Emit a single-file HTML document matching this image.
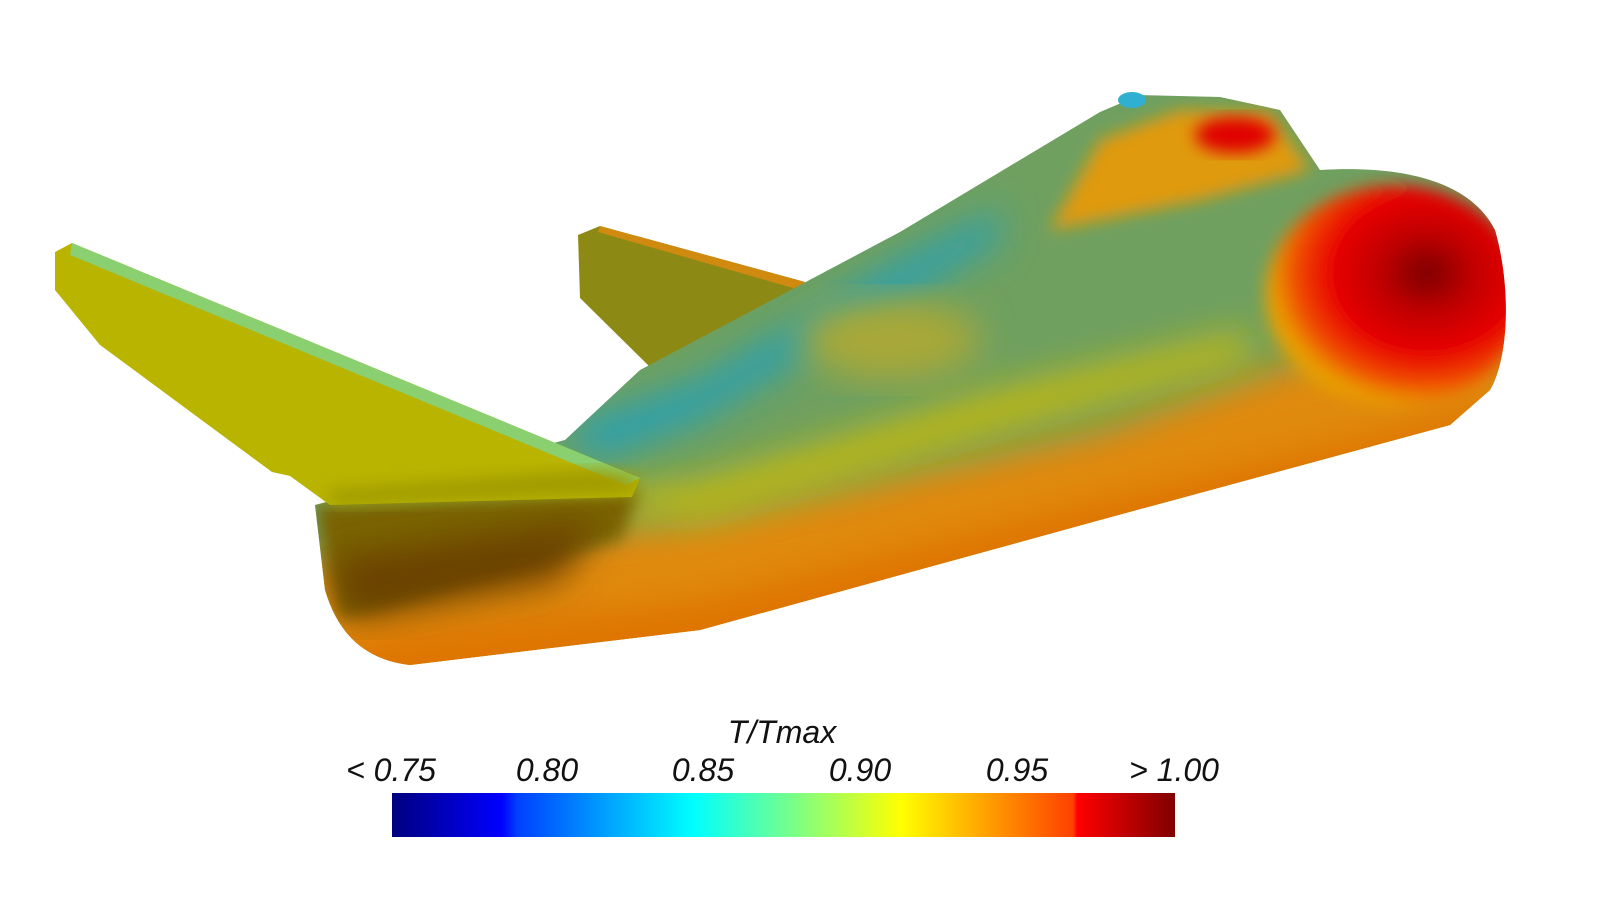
<!DOCTYPE html>
<html><head><style>
html,body{margin:0;padding:0;background:#fff;width:1600px;height:900px;overflow:hidden}
.t{font-family:"Liberation Sans",sans-serif;font-style:italic;font-size:32px;fill:#111}
</style></head><body>
<svg width="1600" height="900" viewBox="0 0 1600 900" xmlns="http://www.w3.org/2000/svg">
<defs>
<linearGradient id="jet" x1="0" x2="1">
<stop offset="0" stop-color="#00007f"/><stop offset="0.14" stop-color="#0000ff"/>
<stop offset="0.16" stop-color="#0040ff"/><stop offset="0.385" stop-color="#00ffff"/>
<stop offset="0.52" stop-color="#80ff80"/><stop offset="0.65" stop-color="#ffff00"/>
<stop offset="0.87" stop-color="#ff4000"/><stop offset="0.875" stop-color="#ff0000"/>
<stop offset="1" stop-color="#7f0000"/></linearGradient>
<filter id="b" x="-20%" y="-20%" width="140%" height="140%"><feGaussianBlur stdDeviation="18"/></filter>
<filter id="b2" x="-20%" y="-20%" width="140%" height="140%"><feGaussianBlur stdDeviation="8"/></filter>
<radialGradient id="nose" cx="0.62" cy="0.4" r="0.6">
<stop offset="0" stop-color="#7a0000"/><stop offset="0.3" stop-color="#c00000"/><stop offset="0.6" stop-color="#e80000"/><stop offset="0.85" stop-color="#f05000"/><stop offset="1" stop-color="#e8a000"/></radialGradient>
<clipPath id="bc"><path d="M315,505 L565,440 L640,370 L900,232 L1100,112 L1140,95 L1220,97 L1280,110 L1320,170 C1400,165 1470,180 1495,230 C1512,290 1508,360 1490,390 L1450,425 L1100,520 L700,630 L410,665 C370,660 340,640 325,590 Z"/></clipPath>
</defs>
<path d="M578,235 L600,226 L805,282 L655,372 L580,298 Z" fill="#8c8a14"/>
<path d="M600,226 L805,282 L800,290 L598,232 Z" fill="#d08a10"/>
<g clip-path="url(#bc)">
<rect x="300" y="80" width="1220" height="600" fill="#6fa060"/>
<path d="M300,560 L700,520 L1100,430 L1300,360 L1520,300 L1520,700 L300,700 Z" fill="#e08a10" filter="url(#b)"/>
<path d="M350,640 L700,600 L1100,500 L1520,400 L1520,700 L300,700 Z" fill="#de7400" filter="url(#b)"/>
<path d="M520,500 L700,480 L1000,390 L1250,330 L1250,360 L1000,430 L700,520 Z" fill="#c0b818" filter="url(#b)"/>
<path d="M560,430 L700,380 L900,260 L1000,210 L1000,240 L900,300 L700,420 L600,460 Z" fill="#2aa0b0" filter="url(#b)"/>
<ellipse cx="890" cy="340" rx="90" ry="40" fill="#a8a838" filter="url(#b)"/>
<path d="M315,505 L640,490 L620,540 L340,620 Z" fill="#7a6400" filter="url(#b2)"/>
<path d="M330,560 L600,520 L560,580 L350,620 Z" fill="#6a4000" filter="url(#b)"/>
<ellipse cx="1395" cy="295" rx="130" ry="110" fill="url(#nose)" filter="url(#b2)"/>
<path d="M1050,230 L1100,140 L1180,110 L1270,112 L1310,170 L1200,200 Z" fill="#e09a10" filter="url(#b2)"/>
<ellipse cx="1235" cy="135" rx="40" ry="18" fill="#e00000" filter="url(#b2)"/>
</g>
<ellipse cx="1132" cy="100" rx="14" ry="8" fill="#30b0d0"/>
<path d="M55,252 L72,243 L640,478 L632,497 L330,505 L290,476 L272,472 L100,345 L55,290 Z" fill="#b8b400"/>
<path d="M72,243 L640,478 L625,485 L70,255 Z" fill="#8ad070"/>
<path d="M330,505 L632,492 L640,478 L600,470 L330,490 Z" fill="#a09a00" filter="url(#b2)"/>
<rect x="392" y="793" width="783" height="44" fill="url(#jet)"/>
<text class="t" x="782" y="743" text-anchor="middle">T/Tmax</text>
<text class="t" x="391" y="781" text-anchor="middle">&lt; 0.75</text>
<text class="t" x="547" y="781" text-anchor="middle">0.80</text>
<text class="t" x="703" y="781" text-anchor="middle">0.85</text>
<text class="t" x="860" y="781" text-anchor="middle">0.90</text>
<text class="t" x="1017" y="781" text-anchor="middle">0.95</text>
<text class="t" x="1174" y="781" text-anchor="middle">&gt; 1.00</text>
</svg>
</body></html>
